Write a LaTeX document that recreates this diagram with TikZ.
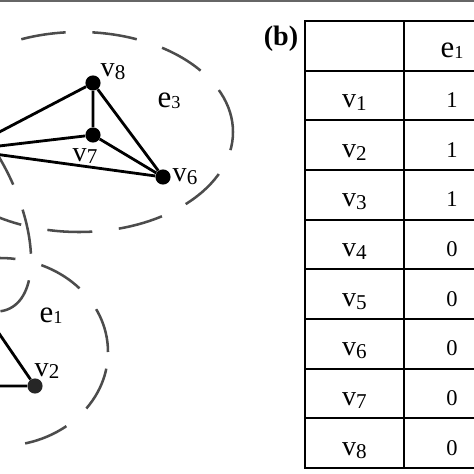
\documentclass[tikz,border=0pt]{standalone}
\usepackage{fontspec}
\setmainfont{Liberation Serif}
\usetikzlibrary{positioning}
\newcommand{\vlab}[1]{{\fontsize{20}{20}\selectfont v}\raisebox{-2pt}{\fontsize{15}{15}\selectfont #1}}
\newcommand{\elab}[1]{{\fontsize{22}{22}\selectfont e}\raisebox{-1pt}{\fontsize{13}{13}\selectfont #1}}

\begin{document}
\begin{tikzpicture}[
  vert/.style={circle, fill=black, minimum size=0.38cm, inner sep=0pt},
  link/.style={line width=2pt},
  hedge/.style={line width=1.8pt, draw=black!70, dash pattern=on 32pt off 19pt},
  grid/.style={line width=1.6pt, line cap=rect},
  cell/.style={anchor=base, inner sep=0pt}]
  \useasboundingbox (0,0) rectangle (11.85,11.85);
  \clip (0,0) rectangle (11.85,11.85);
  \fill[black!60] (0,11.79) rectangle (11.85,11.85);

  % hyperedges
  \draw[hedge] (1.975,8.55) ellipse (3.85cm and 2.5cm);
  \draw[hedge] (0,3.05) ellipse (2.7cm and 2.35cm);
  \draw[hedge, rotate around={26.7:(-1.125,6.875)}] (-1.125,6.875) ellipse (1.47cm and 3.06cm);

  % vertices
  \coordinate (v5) at (-0.875,8.1);
  \coordinate (v1) at (-0.75,4.575);
  \coordinate (v3) at (-1.5,2.2);
  \node[vert] (v8) at (2.325,9.775) {};
  \node[vert] (v7) at (2.325,8.475) {};
  \node[vert] (v6) at (4.075,7.425) {};
  \node[vert, fill=black!85] (v2) at (0.875,2.2) {};

  \draw[link] (v5) -- (v8) -- (v6) -- (v7) -- (v8);
  \draw[link] (v5) -- (v7);
  \draw[link] (v5) -- (v6);
  \draw[link] (v1) -- (v2) -- (v3);

  \node (l8) at (2.825,10.05) {\vlab{8}};
  \node (l7) at (2.125,7.95) {\vlab{7}};
  \node (l6) at (4.625,7.425) {\vlab{6}};
  \node (l2) at (1.175,2.575) {\vlab{2}};
  \node (le3) at (4.225,9.325) {\elab{3}};
  \node (le1) at (1.275,3.95) {\elab{1}};

  % incidence table
  \foreach \k in {0,...,9}
    \draw[grid] (7.625,{11.325-1.2417*\k}) -- (12.5,{11.325-1.2417*\k});
  \draw[grid] (7.625,11.325) -- (7.625,0.15);
  \draw[grid] (10.1,11.325) -- (10.1,0.15);

  \node[font=\bfseries\fontsize{20}{20}\selectfont] (tag) at (7.025,10.875) {(b)};
  \node[cell] (head) at (11.3,10.42) {\elab{1}};
  \foreach \i/\val in {1/1,2/1,3/1,4/0,5/0,6/0,7/0,8/0} {
    \node[cell] (row\i) at (8.86,{11.325-1.2417*(\i+1)+0.32}) {\vlab{\i}};
    \node[cell, font=\fontsize{16}{16}\selectfont] (val\i) at (11.3,{11.325-1.2417*(\i+1)+0.32}) {\val};
  }
\end{tikzpicture}
\end{document}
